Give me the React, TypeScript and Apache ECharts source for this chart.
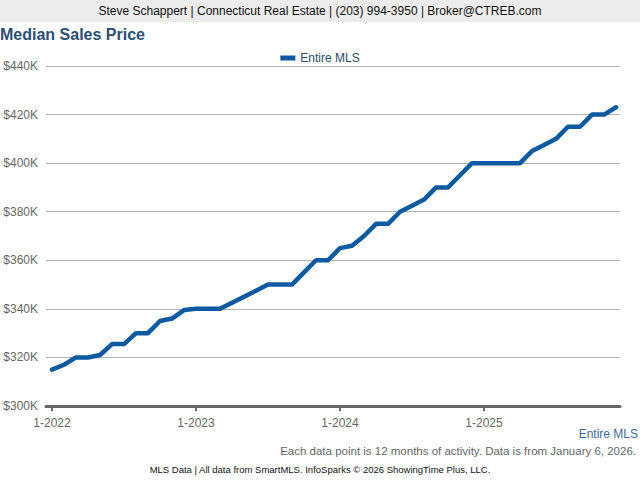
import { useEffect, useRef } from 'react';
import * as echarts from 'echarts';

// 1-2022 .. 12-2025, one point per month (rolling 12 months)
const months = Array.from({ length: 48 }, (_, i) => i);
const entireMls = [
  315, 317, 320, 320, 321, 325.5, 325.5, 330, 330, 335, 336, 339.5,
  340, 340, 340, 342.5, 345, 347.5, 350, 350, 350, 355, 360, 360,
  365, 366, 370, 375, 375, 380, 382.5, 385, 390, 390, 395, 400,
  400, 400, 400, 400, 405, 407.5, 410, 415, 415, 420, 420, 423,
];
const xTickValues = [0, 12, 24, 36];
const xTickLabels = ['1-2022', '1-2023', '1-2024', '1-2025'];

const FONT = '"Liberation Sans", Arial, sans-serif';

export default function App() {
  const chartRef = useRef<HTMLDivElement>(null);

  useEffect(() => {
    if (!chartRef.current) return;
    const chart = echarts.init(chartRef.current, null, { renderer: 'svg' });

    const option = {
      animation: false,
      textStyle: { fontFamily: FONT },
      title: {
        text: 'Median Sales Price',
        left: 0,
        top: 26,
        padding: 0,
        textStyle: { fontSize: 16, fontWeight: 'bold', color: '#2b4e76', fontFamily: FONT },
      },
      legend: {
        top: 47,
        left: 'center',
        icon: 'rect',
        itemWidth: 15,
        itemHeight: 5,
        itemGap: 5,
        data: ['Entire MLS'],
        textStyle: { color: '#2d4a6b', fontSize: 12, fontFamily: FONT },
      },
      grid: { left: 46, right: 20, top: 66, bottom: 74 },
      xAxis: {
        type: 'value',
        min: -0.5,
        max: 47.33,
        axisLine: { show: true, onZero: false, lineStyle: { color: '#666', width: 3 } },
        axisTick: {
          show: true,
          customValues: xTickValues,
          length: 5,
          lineStyle: { color: '#666', width: 2 },
        },
        axisLabel: {
          customValues: xTickValues,
          color: '#666',
          fontSize: 12,
          margin: 11,
          fontFamily: FONT,
          formatter: (v: number) => xTickLabels[xTickValues.indexOf(v)] ?? '',
        },
        splitLine: { show: false },
      },
      yAxis: {
        type: 'value',
        min: 300,
        max: 440,
        interval: 20,
        axisLine: { show: false },
        axisTick: { show: false },
        axisLabel: {
          color: '#666',
          fontSize: 12,
          margin: 8,
          fontFamily: FONT,
          formatter: (v: number) => '$' + v + 'K',
        },
        splitLine: { lineStyle: { color: '#b0b0b0', width: 1 } },
      },
      series: [
        {
          name: 'Entire MLS',
          type: 'line',
          data: months.map((m, i) => [m, entireMls[i]]),
          showSymbol: false,
          itemStyle: { color: '#0b5aa2' },
          lineStyle: { width: 4.5, color: '#0b5aa2', join: 'round', cap: 'round' },
        },
      ],
      graphic: [
        {
          type: 'rect',
          left: 0,
          top: 0,
          z: -1,
          shape: { width: 640, height: 22 },
          style: { fill: '#ececec' },
        },
        {
          type: 'text',
          x: 320,
          y: 11,
          style: {
            text: 'Steve Schappert | Connecticut Real Estate | (203) 994-3950 | Broker@CTREB.com',
            fill: '#111',
            fontSize: 12,
            fontFamily: FONT,
            align: 'center',
            verticalAlign: 'middle',
          },
        },
        {
          type: 'text',
          x: 638,
          y: 434,
          style: {
            text: 'Entire MLS',
            fill: '#3d6a9c',
            fontSize: 12,
            fontFamily: FONT,
            align: 'right',
            verticalAlign: 'middle',
          },
        },
        {
          type: 'text',
          x: 636,
          y: 451,
          style: {
            text: 'Each data point is 12 months of activity. Data is from January 6, 2026.',
            fill: '#666',
            fontSize: 11.5,
            fontFamily: FONT,
            align: 'right',
            verticalAlign: 'middle',
          },
        },
        {
          type: 'text',
          x: 320,
          y: 469,
          style: {
            text: 'MLS Data | All data from SmartMLS. InfoSparks © 2026 ShowingTime Plus, LLC.',
            fill: '#111',
            fontSize: 9.5,
            fontFamily: FONT,
            align: 'center',
            verticalAlign: 'middle',
          },
        },
      ],
    };

    chart.setOption(option);

    return () => {
      chart.dispose();
    };
  }, []);

  return (
    <div
      ref={chartRef}
      style={{ position: 'fixed', left: 0, top: 0, width: 640, height: 480, background: '#fff' }}
    />
  );
}
